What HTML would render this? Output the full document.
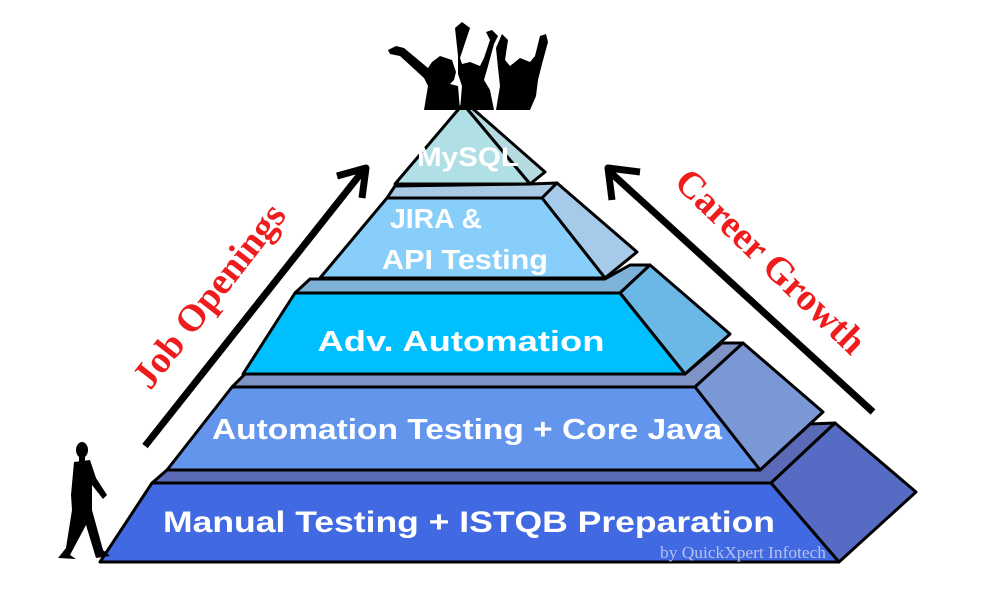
<!DOCTYPE html>
<html><head><meta charset="utf-8"><style>
html,body{margin:0;padding:0;background:#fff;width:1000px;height:600px;overflow:hidden}
svg{display:block}
.t{font-family:"Liberation Sans",sans-serif;font-weight:bold;fill:#fff}
.r{font-family:"Liberation Serif",serif;font-weight:bold;fill:#ee1c1c;font-size:38px}
</style></head><body>
<svg width="1000" height="600" viewBox="0 0 1000 600" stroke="#000" stroke-width="3" stroke-linejoin="round">
<g stroke-width="7" fill="none" stroke-linecap="butt">
<line x1="145" y1="446" x2="362" y2="172"/>
<polyline points="337,176 366,168 362,198"/>
<line x1="873" y1="412" x2="610" y2="172"/>
<polyline points="640,172 608,168 612,200"/>
</g>
<polygon points="152,483 167,470 760,470 810,424 835,423 771,483" fill="#5b6ab6"/>
<polygon points="771,483 835,423 916,492 839,562" fill="#566cc4"/>
<polygon points="152,483 771,483 839,562 100,562" fill="#4169e1"/>
<polygon points="232,387 245,374 685,374 722,343 743,343 695,387" fill="#7f93c6"/>
<polygon points="695,387 743,343 823,412 760,470" fill="#7b98d6"/>
<polygon points="232,387 695,387 760,470 167,470" fill="#6495ed"/>
<polygon points="295,293 310,279 605,279 630,265 650,265 620,293" fill="#7fb2d8"/>
<polygon points="620,293 650,265 730,334 685,374" fill="#6bb8e6"/>
<polygon points="295,293 620,293 685,374 243,374" fill="#00bfff"/>
<polygon points="387,198 395,186 530,184 557,183 542,198" fill="#a9cae4"/>
<polygon points="542,198 557,183 637,252 605,278" fill="#a6cbea"/>
<polygon points="387,198 542,198 605,278 320,278" fill="#87cefa"/>
<polygon points="463,104 472,108 545,172 530,184" fill="#b5dbe0"/>
<polygon points="463,104 530,184 395,184" fill="#b0e0e6"/>
<g stroke="none">
<text class="t" x="469" y="532" font-size="30" text-anchor="middle" textLength="612" lengthAdjust="spacingAndGlyphs">Manual Testing + ISTQB Preparation</text>
<text class="t" x="467" y="439" font-size="29" text-anchor="middle" textLength="510" lengthAdjust="spacingAndGlyphs">Automation Testing + Core Java</text>
<text class="t" x="461" y="351" font-size="29" text-anchor="middle" textLength="287" lengthAdjust="spacingAndGlyphs">Adv. Automation</text>
<text class="t" x="436" y="228" font-size="28" text-anchor="middle" textLength="92" lengthAdjust="spacingAndGlyphs">JIRA &amp;</text>
<text class="t" x="465" y="269" font-size="28" text-anchor="middle" textLength="166" lengthAdjust="spacingAndGlyphs">API Testing</text>
<text class="t" x="468" y="166" font-size="27" text-anchor="middle" textLength="102" lengthAdjust="spacingAndGlyphs">MySQL</text>
<text x="743" y="558" font-family="Liberation Serif,serif" font-size="17" fill="#b8c0ee" text-anchor="middle" textLength="166" lengthAdjust="spacingAndGlyphs">by QuickXpert Infotech</text>
<text class="r" transform="translate(212,298) rotate(-52)" text-anchor="middle" dominant-baseline="middle">Job Openings</text>
<text class="r" transform="translate(768,264) rotate(44)" text-anchor="middle" dominant-baseline="middle">Career Growth</text>
<g fill="#000">
<ellipse cx="82" cy="450" rx="6" ry="8"/>
<rect x="79" y="456" width="6" height="6"/>
<path d="M74,462 L90,460 L96,478 L107,495 L103,499 L92,485 L92,510 L103,550 L110,556 L96,558 L86,525 L70,555 L76,559 L58,558 L66,548 L72,510 L71,495 Z"/>
</g>
<g fill="#000">
<path d="M388,50 L396,46 L404,48 L428,68 L432,62 L440,56 L452,60 L456,72 L454,80 L450,84 L458,86 L460,110 L424,110 L428,86 L424,78 L400,56 L390,54 Z"/>
<path d="M455,28 L462,22 L470,28 L466,40 L460,58 L462,64 L470,62 L480,66 L484,58 L490,40 L486,32 L492,30 L498,36 L494,44 L488,66 L484,80 L490,90 L494,110 L460,110 L462,86 L458,74 L458,56 Z"/>
<path d="M496,48 L502,34 L508,40 L505,60 L510,66 L520,58 L530,62 L535,56 L540,36 L546,34 L548,42 L542,64 L538,80 L536,96 L530,110 L496,110 L500,86 L498,68 Z"/>
</g>
</g>
</svg>
</body></html>
